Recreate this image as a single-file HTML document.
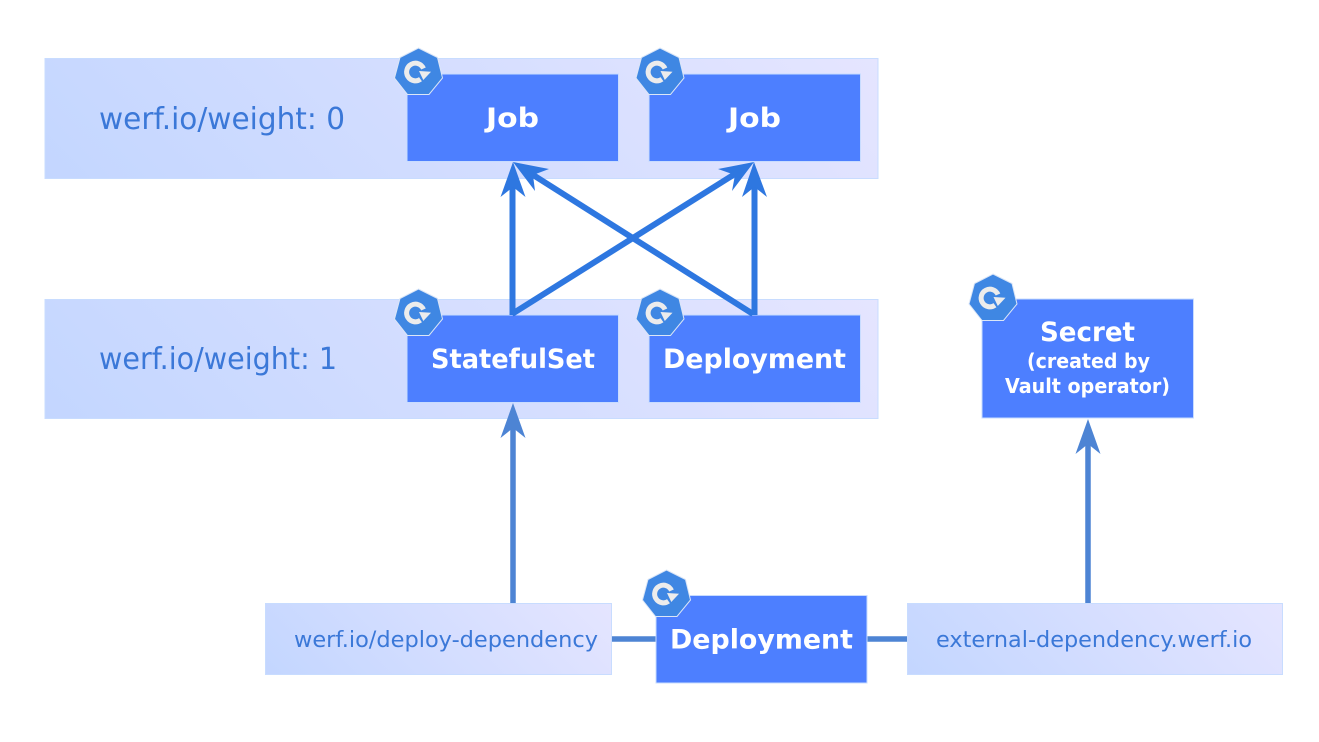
<!DOCTYPE html>
<html><head><meta charset="utf-8">
<style>
html,body{margin:0;padding:0;background:#fff}
svg{display:block}
text{font-family:"DejaVu Sans","Liberation Sans",sans-serif}
.r{fill:#3b78d8;font-weight:400}
.b{fill:#fff;font-weight:700}
</style></head>
<body>
<svg width="1319" height="742" viewBox="0 0 1319 742" xmlns="http://www.w3.org/2000/svg">
<defs>
<linearGradient id="g0" gradientUnits="userSpaceOnUse" x1="45" y1="178" x2="521.5" y2="-298.5">
<stop offset="0" stop-color="#c3d6ff"/><stop offset="1" stop-color="#e5e5ff"/>
</linearGradient>
<linearGradient id="g1" gradientUnits="userSpaceOnUse" x1="45" y1="418" x2="521.5" y2="-58.5">
<stop offset="0" stop-color="#c3d6ff"/><stop offset="1" stop-color="#e5e5ff"/>
</linearGradient>
<linearGradient id="g2" gradientUnits="userSpaceOnUse" x1="265" y1="675" x2="474" y2="466">
<stop offset="0" stop-color="#c3d6ff"/><stop offset="1" stop-color="#e5e5ff"/>
</linearGradient>
<linearGradient id="g3" gradientUnits="userSpaceOnUse" x1="907" y1="675" x2="1130.5" y2="451.5">
<stop offset="0" stop-color="#c3d6ff"/><stop offset="1" stop-color="#e5e5ff"/>
</linearGradient>
<g id="ic">
<polygon points="0,-24 19,-14.5 24,6 10.5,22.5 -11,22.5 -24,6 -18.5,-14.5" fill="#3f87e3" stroke="#dbe6f7" stroke-width="1"/>
<path d="M2,7.2 A8.8,8.8 0 1 1 5,-3.5" fill="none" stroke="#ececec" stroke-width="5"/>
<polygon points="0.5,-1 12.5,-0.3 4.8,8" fill="#ececec"/>
</g>
</defs>
<rect width="1319" height="742" fill="#fff"/>

<rect x="45" y="58.5" width="833" height="120" fill="url(#g0)" stroke="#c8dcff" stroke-width="1"/>
<rect x="45" y="299.5" width="833" height="119" fill="url(#g1)" stroke="#c8dcff" stroke-width="1"/>
<rect x="265.5" y="603.5" width="346" height="71" fill="url(#g2)" stroke="#c8dcff" stroke-width="1"/>
<rect x="907.5" y="603.5" width="375" height="71" fill="url(#g3)" stroke="#c8dcff" stroke-width="1"/>

<!-- lower connectors -->
<g stroke="#4d84d4" stroke-width="5.5" fill="none">
<line x1="513" y1="603" x2="513" y2="428"/>
<line x1="1088" y1="603" x2="1088" y2="442"/>
<line x1="612" y1="639" x2="656" y2="639"/>
<line x1="867" y1="639" x2="907" y2="639"/>
</g>
<polygon points="513,403 525.5,438 513,428 500.5,438" fill="#4d84d4"/>
<polygon points="1088,419 1100.5,454 1088,444 1075.5,454" fill="#4d84d4"/>

<!-- boxes -->
<g fill="#4d7fff" stroke="#c8dcff" stroke-width="1">
<rect x="407" y="74" width="211.5" height="87.5"/>
<rect x="649" y="74" width="211.5" height="87.5"/>
<rect x="407" y="315" width="211.5" height="87.5"/>
<rect x="649" y="315" width="211.5" height="87.5"/>
<rect x="982" y="299" width="211.5" height="119"/>
<rect x="656" y="595.5" width="211" height="87.5"/>
</g>

<!-- upper connectors -->
<g stroke="#2e77e0" stroke-width="6" fill="none">
<line x1="512.5" y1="315" x2="512.5" y2="185"/>
<line x1="754.5" y1="315" x2="754.5" y2="185"/>
<line x1="753" y1="314" x2="530" y2="173"/>
<line x1="512" y1="314" x2="738" y2="172"/>
</g>
<g fill="#2e77e0">
<polygon points="513,162 525.5,197 513,187 500.5,197"/>
<polygon points="754,162 767,197 754.5,187 742,197"/>
<polygon points="513,162 549,169 533,175 535,191"/>
<polygon points="754,162 718,169 735,175 732,191"/>
</g>

<!-- icons -->
<use href="#ic" x="418.5" y="72"/>
<use href="#ic" x="660" y="72"/>
<use href="#ic" x="418.5" y="313"/>
<use href="#ic" x="660" y="313"/>
<use href="#ic" x="993" y="298"/>
<use href="#ic" x="666.5" y="594"/>

<!-- labels -->
<text class="r" x="99" y="129" font-size="30" textLength="246" lengthAdjust="spacingAndGlyphs">werf.io/weight: 0</text>
<text class="r" x="99" y="369" font-size="30" textLength="238" lengthAdjust="spacingAndGlyphs">werf.io/weight: 1</text>
<text class="r" x="294" y="647" font-size="22" textLength="304" lengthAdjust="spacingAndGlyphs">werf.io/deploy-dependency</text>
<text class="r" x="936" y="647" font-size="22" textLength="316" lengthAdjust="spacingAndGlyphs">external-dependency.werf.io</text>

<text class="b" x="486" y="127" font-size="27" textLength="53" lengthAdjust="spacingAndGlyphs">Job</text>
<text class="b" x="728" y="127" font-size="27" textLength="53" lengthAdjust="spacingAndGlyphs">Job</text>
<text class="b" x="431" y="368" font-size="27" textLength="164" lengthAdjust="spacingAndGlyphs">StatefulSet</text>
<text class="b" x="663" y="368" font-size="27" textLength="183" lengthAdjust="spacingAndGlyphs">Deployment</text>
<text class="b" x="670" y="648.500" font-size="27" textLength="183" lengthAdjust="spacingAndGlyphs">Deployment</text>
<text class="b" x="1040" y="341" font-size="27" textLength="95" lengthAdjust="spacingAndGlyphs">Secret</text>
<text class="b" x="1027" y="368" font-size="20.500" textLength="123" lengthAdjust="spacingAndGlyphs">(created by</text>
<text class="b" x="1005" y="393" font-size="20.500" textLength="165" lengthAdjust="spacingAndGlyphs">Vault operator)</text>
</svg>
</body></html>
